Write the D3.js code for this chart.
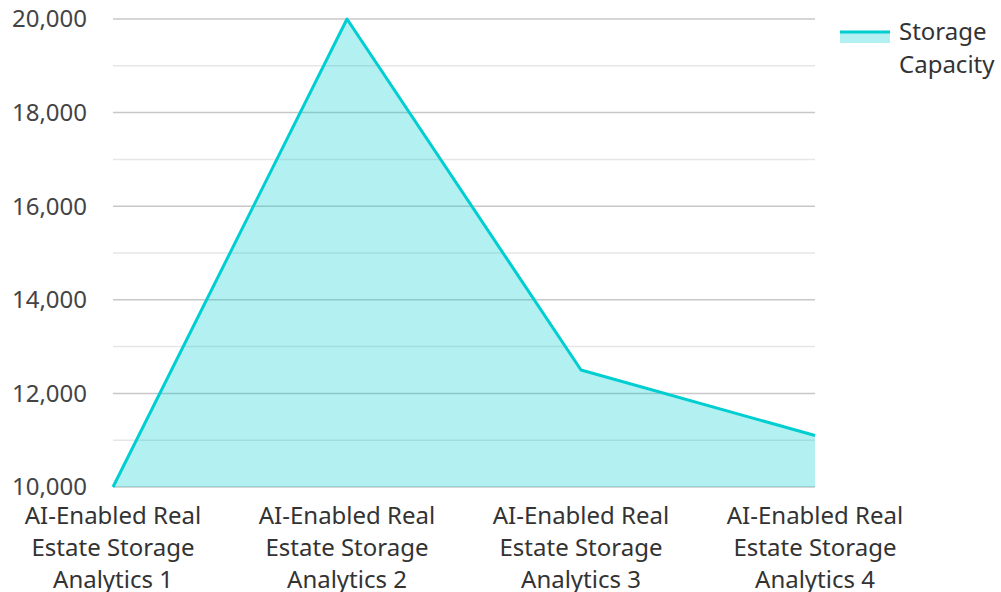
<!DOCTYPE html>
<html><head><meta charset="utf-8">
<script src="https://cdn.jsdelivr.net/npm/d3@7"></script>
<style>body{margin:0;background:#fff}svg{display:block;font-family:"Noto Sans","Open Sans",sans-serif}</style>
</head><body>
<svg id="c" width="1001" height="592"></svg>
<script>
const categories = ["AI-Enabled Real Estate Storage Analytics 1","AI-Enabled Real Estate Storage Analytics 2","AI-Enabled Real Estate Storage Analytics 3","AI-Enabled Real Estate Storage Analytics 4"];
const categoryLines = [["AI-Enabled Real","Estate Storage","Analytics 1"],["AI-Enabled Real","Estate Storage","Analytics 2"],["AI-Enabled Real","Estate Storage","Analytics 3"],["AI-Enabled Real","Estate Storage","Analytics 4"]];
const storageCapacity = [10000, 20000, 12500, 11100];
const majorTicks = [10000, 12000, 14000, 16000, 18000, 20000];
const minorTicks = [11000, 13000, 15000, 17000, 19000];
const seriesName = ["Storage", "Capacity"];

const svg = d3.select("#c");
const color = "#00CED1";
const x = d3.scalePoint().domain(categories).range([113, 815]);
const y = d3.scaleLinear().domain([10000, 20000]).range([487, 19]);

const g = svg.append("g");
g.selectAll(".minor").data(minorTicks).join("line")
  .attr("x1", 113).attr("x2", 815).attr("y1", d => y(d)).attr("y2", d => y(d))
  .attr("stroke", "#e6e6e6").attr("stroke-width", 1.5);
g.selectAll(".major").data(majorTicks).join("line")
  .attr("x1", 113).attr("x2", 815).attr("y1", d => y(d)).attr("y2", d => y(d))
  .attr("stroke", "#c8c8c8").attr("stroke-width", 1.5);

const data = categories.map((c, i) => ({c, v: storageCapacity[i]}));
svg.append("path").datum(data)
  .attr("d", d3.area().x(d => x(d.c)).y0(y(10000)).y1(d => y(d.v)))
  .attr("fill", color).attr("fill-opacity", 0.3);
svg.append("path").datum(data)
  .attr("d", d3.line().x(d => x(d.c)).y(d => y(d.v)))
  .attr("fill", "none").attr("stroke", color).attr("stroke-width", 3).attr("stroke-linejoin", "round");

svg.selectAll(".yl").data(majorTicks).join("text")
  .attr("x", 87).attr("y", d => y(d)).attr("dy", "0.35em").attr("text-anchor", "end")
  .attr("font-size", 24).attr("fill", "#444").text(d => d3.format(",")(d));

categories.forEach((c, i) => {
  const t = svg.append("text").attr("text-anchor", "middle").attr("font-size", 24).attr("fill", "#333");
  categoryLines[i].forEach((ln, j) => {
    t.append("tspan").attr("x", x(c)).attr("y", 524 + j * 32).text(ln);
  });
});

const lg = svg.append("g");
lg.append("rect").attr("x", 840).attr("y", 31).attr("width", 50).attr("height", 12).attr("fill", color).attr("fill-opacity", 0.3);
lg.append("line").attr("x1", 840).attr("x2", 890).attr("y1", 32).attr("y2", 32).attr("stroke", color).attr("stroke-width", 3);
const lt = lg.append("text").attr("font-size", 24).attr("fill", "#333");
seriesName.forEach((s, j) => lt.append("tspan").attr("x", 899).attr("y", 40 + j * 33).text(s));
</script>
</body></html>
